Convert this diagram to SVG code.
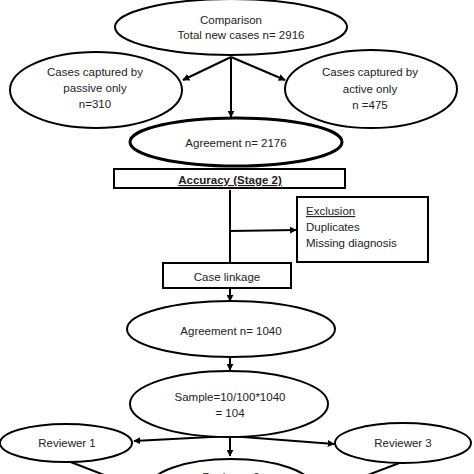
<svg xmlns="http://www.w3.org/2000/svg" width="474" height="474" viewBox="0 0 474 474">
<defs>
<marker id="ah" viewBox="0 0 10 10" refX="9" refY="5" markerWidth="7" markerHeight="7" markerUnits="userSpaceOnUse" orient="auto">
<path d="M0,0 L10,5 L0,10 z" fill="#000"/>
</marker>
<style>
.s{fill:#fff;stroke:#000;stroke-width:2}
.k{fill:#fff;stroke:#000;stroke-width:3}
.t{font-family:"Liberation Sans",Arial,sans-serif;font-size:11.5px;fill:#222;text-anchor:middle}
.l{text-anchor:start}
.c{fill:none;stroke:#000;stroke-width:2}
.a{marker-end:url(#ah)}
</style>
</defs>
<rect width="474" height="474" fill="#fff"/>
<g id="connectors">
<path class="c a" d="M231,57 L183,80"/>
<path class="c a" d="M231,57 L285,80"/>
<path class="c a" d="M231,57 L231,117"/>
<path class="c" d="M230,190 L230,263"/>
<path class="c a" d="M230,231 L296,230"/>
<path class="c a" d="M230,288 L230,301"/>
<path class="c a" d="M230,357 L230,370"/>
<path class="c a" d="M230,436 L134,441"/>
<path class="c a" d="M230,436 L334,444"/>
<path class="c a" d="M230,437 L230,456"/>
<path class="c" d="M68,461 L112,478"/>
<path class="c" d="M402,462 L360,478"/>
</g>
<g id="comparison">
<ellipse class="s" cx="231" cy="27" rx="116" ry="28"/>
<text class="t" x="231" y="24">Comparison</text>
<text class="t" x="241" y="39">Total new cases n= 2916</text>
</g>
<g id="passive">
<ellipse class="s" cx="96" cy="90" rx="86" ry="38"/>
<text class="t" x="95" y="76">Cases captured by</text>
<text class="t" x="95" y="92">passive only</text>
<text class="t" x="95" y="108">n=310</text>
</g>
<g id="active">
<ellipse class="s" cx="371" cy="89" rx="86" ry="39"/>
<text class="t" x="370" y="76">Cases captured by</text>
<text class="t" x="370" y="93">active only</text>
<text class="t" x="370" y="109">n =475</text>
</g>
<g id="agreement1">
<ellipse class="k" cx="236" cy="142" rx="106" ry="24"/>
<text class="t" x="236" y="147">Agreement n= 2176</text>
</g>
<g id="accuracy">
<rect class="s" x="114" y="169" width="231" height="19"/>
<text class="t" x="230" y="184" font-weight="bold" text-decoration="underline">Accuracy (Stage 2)</text>
</g>
<g id="exclusion">
<rect class="s" x="297" y="197" width="131" height="65"/>
<text class="t l" x="306" y="215" text-decoration="underline">Exclusion</text>
<text class="t l" x="306" y="231">Duplicates</text>
<text class="t l" x="306" y="247">Missing diagnosis</text>
</g>
<g id="caselinkage">
<rect class="s" x="163" y="263" width="128" height="25"/>
<text class="t" x="227" y="281">Case linkage</text>
</g>
<g id="agreement2">
<ellipse class="s" cx="231" cy="329" rx="104" ry="28"/>
<text class="t" x="231" y="335">Agreement n= 1040</text>
</g>
<g id="sample">
<ellipse class="s" cx="229" cy="404" rx="99" ry="33"/>
<text class="t" x="230" y="401">Sample=10/100*1040</text>
<text class="t" x="230" y="417">= 104</text>
</g>
<g id="reviewer1">
<ellipse class="s" cx="66" cy="443" rx="66" ry="19"/>
<text class="t" x="67" y="447">Reviewer 1</text>
</g>
<g id="reviewer3">
<ellipse class="s" cx="403" cy="443" rx="68" ry="20"/>
<text class="t" x="403" y="447">Reviewer 3</text>
</g>
<g id="reviewer2">
<ellipse class="s" cx="231" cy="488" rx="82" ry="29"/>
<text class="t" x="231" y="481">Reviewer 2</text>
</g>
</svg>
